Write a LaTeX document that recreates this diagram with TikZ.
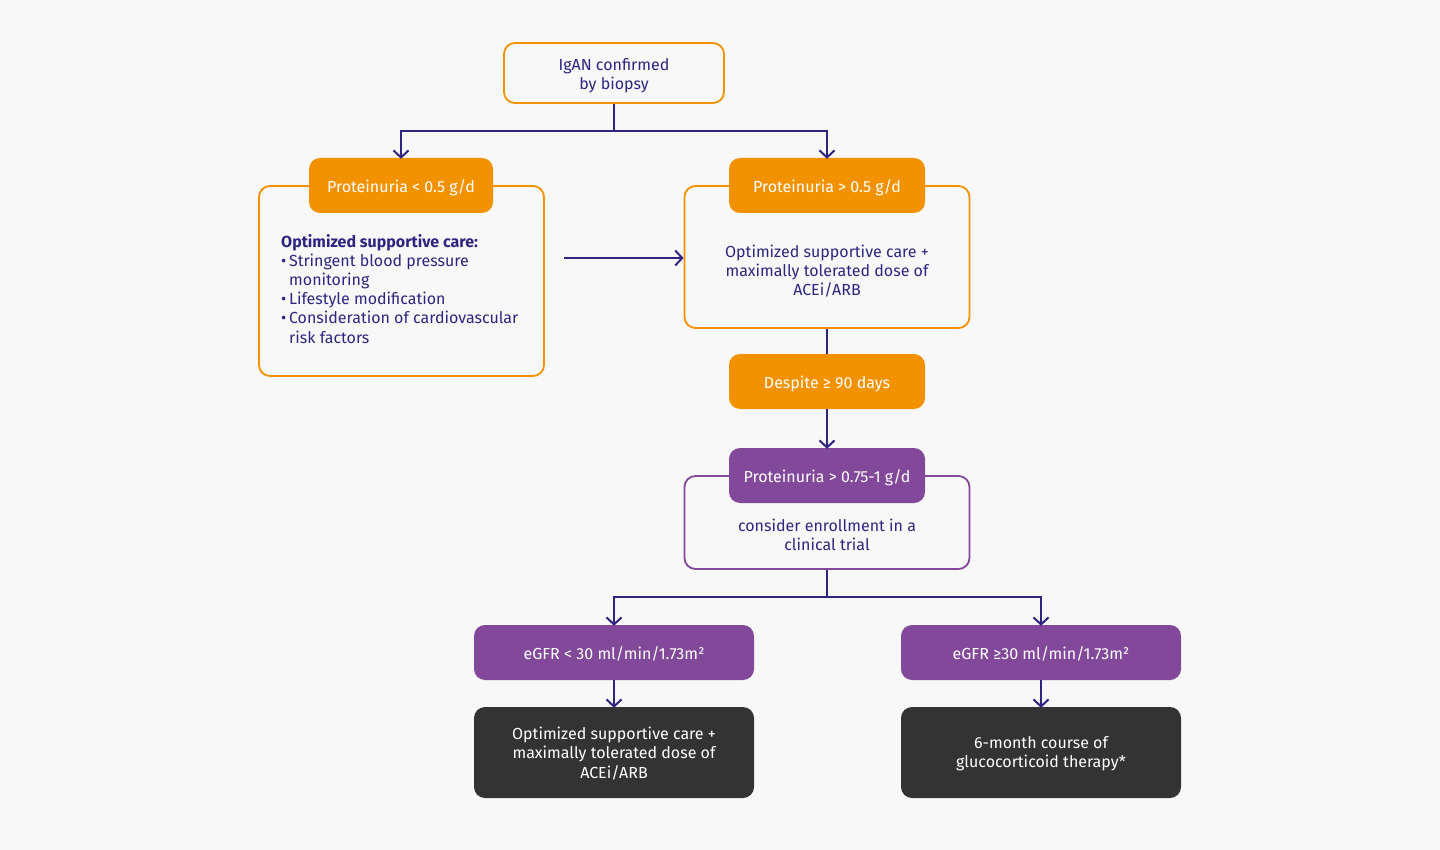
\documentclass[tikz,border=0pt]{standalone}
\usepackage{fontspec}
\setmainfont{Fira Sans}
\usetikzlibrary{arrows.meta}
\definecolor{bgc}{HTML}{F8F8F8}
\definecolor{orng}{HTML}{F39200}
\definecolor{purp}{HTML}{82489A}
\definecolor{navy}{HTML}{2E2581}
\definecolor{dark}{HTML}{333333}
\tikzset{
  base/.style={rounded corners=11pt, minimum width=184pt, minimum height=55pt, inner sep=0pt},
  otag/.style={base, fill=orng},
  ptag/.style={base, fill=purp},
  obox/.style={base, draw=orng, line width=1.8pt, fill=bgc},
  pbox/.style={base, draw=purp, line width=1.8pt, fill=bgc},
  dbox/.style={base, fill=dark, minimum width=280pt, minimum height=91pt},
  txt/.style={inner sep=0pt, align=center, font=\fontsize{16}{19.2}\selectfont, text=navy},
  wtxt/.style={txt, text=white},
  ln/.style={draw=navy, line width=2pt},
  arr/.style={ln, -{Straight Barb[length=7pt,width=15pt,line width=2pt]}}
}
\begin{document}
\begin{tikzpicture}[x=1pt,y=-1pt]
\fill[bgc] (0,0) rectangle (1440,850);
\useasboundingbox (0,0) rectangle (1440,850);
% top
\node[obox, minimum width=220pt, minimum height=60pt] (top) at (614,73) {};
\node[txt] (topt) at (614,76) {IgAN confirmed\\by biopsy};
% left
\node[obox, minimum width=285pt, minimum height=190pt] (lbox) at (401.5,281) {};
\node[otag] (t1) at (401,185.5) {};
\node[wtxt] (t1t) at (401,187.5) {Proteinuria < 0.5 g/d};
\node[txt, align=left, anchor=north west] (ltext) at (281,234) {\textbf{Optimized supportive care:}\\
•\,Stringent blood pressure\\
\hspace*{8pt}monitoring\\
•\,Lifestyle modification\\
•\,Consideration of cardiovascular\\
\hspace*{8pt}risk factors};
% right
\node[obox, minimum width=285pt, minimum height=142pt] (rbox) at (827,257) {};
\node[txt] (rboxt) at (827,271) {Optimized supportive care +\\maximally tolerated dose of\\ACEi/ARB};
\node[otag, minimum width=196pt] (t2) at (827,185.5) {};
\node[wtxt] (t2t) at (827,187.5) {Proteinuria > 0.5 g/d};
\node[otag, minimum width=196pt] (t3) at (827,381.5) {};
\node[wtxt] (t3t) at (827,383.5) {Despite ≥ 90 days};
% purple
\node[pbox, minimum width=285pt, minimum height=93pt] (pbox) at (827,522.5) {};
\node[txt] (pboxt) at (827,534.5) {consider enrollment in a\\clinical trial};
\node[ptag, minimum width=196pt] (t4) at (827,475.5) {};
\node[wtxt] (t4t) at (827,477.5) {Proteinuria > 0.75-1 g/d};
% egfr
\node[ptag, minimum width=280pt] (e1) at (614,652.5) {};
\node[wtxt] (e1t) at (614,654) {eGFR < 30 ml/min/1.73m²};
\node[ptag, minimum width=280pt] (e2) at (1041,652.5) {};
\node[wtxt] (e2t) at (1041,654) {eGFR ≥30 ml/min/1.73m²};
\node[dbox] (d1) at (614,752.5) {};
\node[wtxt] (d1t) at (614,753.5) {Optimized supportive care +\\maximally tolerated dose of\\ACEi/ARB};
\node[dbox] (d2) at (1041,752.5) {};
\node[wtxt] (d2t) at (1041,753.5) {6-month course of\\glucocorticoid therapy*};
% connectors
\coordinate (j1) at (614,131);
\draw[ln] (top.south) -- (j1);
\draw[arr] (j1) -| ([yshift=-1pt]t1.north);
\draw[arr] (j1) -| ([yshift=-1pt]t2.north);
\coordinate (a0) at (564,258);
\draw[arr] (a0) -- (a0 -| rbox.west);
\draw[ln] (rbox.south) -- (t3.north);
\draw[arr] (t3.south) -- ([yshift=-1pt]t4.north);
\coordinate (j2) at (827,597);
\draw[ln] (pbox.south) -- (j2);
\draw[arr] (j2) -| ([yshift=-1pt]e1.north);
\draw[arr] (j2) -| ([yshift=-1pt]e2.north);
\draw[arr] (e1.south) -- ([yshift=-1pt]d1.north);
\draw[arr] (e2.south) -- ([yshift=-1pt]d2.north);
\end{tikzpicture}
\end{document}
